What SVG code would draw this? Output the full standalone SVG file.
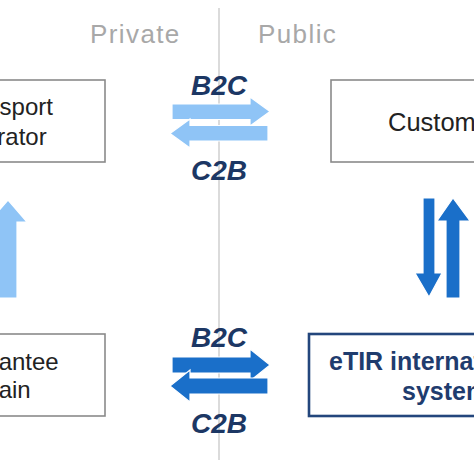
<svg xmlns="http://www.w3.org/2000/svg" width="474" height="474" viewBox="0 0 474 474">
<style>
.lbl{font-family:"Liberation Sans",Arial,sans-serif;font-size:24px;fill:#222}
.zone{font-family:"Liberation Sans",Arial,sans-serif;font-size:26px;fill:#a8a8a8;letter-spacing:1.4px}
.flow{font-family:"Liberation Sans",Arial,sans-serif;font-size:28px;font-weight:bold;font-style:italic;fill:#1c3764;text-anchor:middle}
.box{fill:#fff;stroke:#8a8a8a;stroke-width:1.6}
.lt{fill:#8fc4f6;stroke:#fff;stroke-width:1.2}
.dk{fill:#1a6fc9;stroke:#fff;stroke-width:1.2}
</style>
<rect width="474" height="474" fill="#fff"/>
<line x1="219" y1="8" x2="219" y2="460" stroke="#c8c8c8" stroke-width="1.3"/>
<text class="zone" x="90" y="43">Private</text>
<text class="zone" x="258" y="43">Public</text>
<g id="transport-operator">
<rect class="box" x="-101" y="80" width="206" height="82"/>
<text class="lbl" x="2" y="115" text-anchor="middle">Transport</text>
<text class="lbl" x="2" y="145" text-anchor="middle">operator</text>
</g>
<g id="customs">
<rect class="box" x="331" y="80" width="208" height="82"/>
<text class="lbl" x="388" y="131" style="font-size:25.5px">Customs</text>
</g>
<g id="guarantee-chain">
<rect class="box" x="-101" y="334" width="206" height="82"/>
<text class="lbl" x="2" y="370" text-anchor="middle">Guarantee</text>
<text class="lbl" x="2" y="398" text-anchor="middle">chain</text>
</g>
<g id="etir">
<rect x="309" y="334" width="230" height="82" fill="#fff" stroke="#23467c" stroke-width="2.6"/>
<text class="lbl" x="329" y="370" style="font-weight:bold;font-size:25px;fill:#1f3c6e">eTIR international</text>
<text class="lbl" x="402" y="400" style="font-weight:bold;font-size:25px;fill:#1f3c6e">system</text>
</g>
<g id="connectors">
<polygon class="lt" points="172,104 250,104 250,97 270,111.5 250,126 250,119.5 172,119.5"/>
<polygon class="lt" points="268,125.5 190,125.5 190,119 170,133.5 190,148 190,141 268,141"/>
<text class="flow" x="219" y="95">B2C</text>
<text class="flow" x="219" y="180">C2B</text>
<polygon class="dk" points="172,357 250,357 250,349 270,365 250,381 250,373 172,373"/>
<polygon class="dk" points="268,378 190,378 190,370 170,386 190,402 190,394 268,394"/>
<text class="flow" x="219" y="347">B2C</text>
<text class="flow" x="219" y="433">C2B</text>
<polygon class="dk" points="423,198 435,198 435,273 442,273 429,297 415,273 423,273"/>
<polygon class="dk" points="446,298 460,298 460,221 470,221 453,198 437,221 446,221"/>
<polygon class="lt" points="-1,298 17,298 17,222 27,222 8,200 -11,222 -1,222"/>
</g>
</svg>
